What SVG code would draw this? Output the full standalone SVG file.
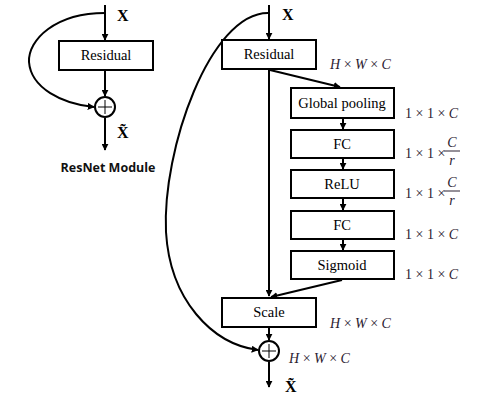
<svg xmlns="http://www.w3.org/2000/svg" width="500" height="403" viewBox="0 0 500 403">
<style>
.box{fill:#fff;stroke:#000;stroke-width:2}
.lbl{font-family:'Liberation Serif','Times New Roman',serif;font-size:14.5px;fill:#000;text-anchor:middle}
.dim{font-family:'Liberation Serif','Times New Roman',serif;font-size:14px;fill:#2a2030;font-style:italic}
.num{font-style:normal}
.ln{stroke:#000;stroke-width:2;fill:none}
.x{font-family:'Liberation Serif','Times New Roman',serif;font-weight:bold;font-size:16px;fill:#000}
</style>
<defs>
<marker id="ah2" viewBox="0 0 10 10" refX="9" refY="5" markerWidth="7" markerHeight="7" orient="auto" markerUnits="userSpaceOnUse">
<path d="M0,0 L10,5 L0,10 z" fill="#000"/>
</marker>
</defs>
<rect width="500" height="403" fill="#fff"/>
<g id="connectors">
<line class="ln" x1="105" y1="5" x2="105" y2="40" marker-end="url(#ah2)"/>
<line class="ln" x1="105" y1="70" x2="105" y2="96" marker-end="url(#ah2)"/>
<line class="ln" x1="105" y1="118" x2="105" y2="150" marker-end="url(#ah2)"/>
<path class="ln" d="M105,13 C55,13 28,40 29,62 C31,88 62,104 94,107" marker-end="url(#ah2)"/>
<line class="ln" x1="269" y1="5" x2="269" y2="39" marker-end="url(#ah2)"/>
<line class="ln" x1="269" y1="70" x2="269" y2="296" marker-end="url(#ah2)"/>
<line class="ln" x1="270" y1="70" x2="340" y2="87" marker-end="url(#ah2)"/>
<line class="ln" x1="343" y1="118" x2="343" y2="129" marker-end="url(#ah2)"/>
<line class="ln" x1="343" y1="159" x2="343" y2="169" marker-end="url(#ah2)"/>
<line class="ln" x1="343" y1="199" x2="343" y2="210" marker-end="url(#ah2)"/>
<line class="ln" x1="343" y1="240" x2="343" y2="250" marker-end="url(#ah2)"/>
<line class="ln" x1="342" y1="280" x2="271" y2="297" marker-end="url(#ah2)"/>
<line class="ln" x1="269" y1="327" x2="269" y2="340" marker-end="url(#ah2)"/>
<line class="ln" x1="269" y1="362" x2="269" y2="387" marker-end="url(#ah2)"/>
<path class="ln" d="M268,13 C210,13 162,150 166,232 C170,300 212,344 258,350" marker-end="url(#ah2)"/>
</g>
<g id="left-x"><text class="x" x="117" y="21">X</text></g>
<g id="left-residual"><rect class="box" x="59" y="41" width="94" height="29"/><text class="lbl" x="106" y="60">Residual</text></g>
<g id="left-sum"><circle cx="105" cy="107" r="10" fill="#fff" stroke="#000" stroke-width="2"/><path d="M98,107 H112 M105,100 V114" stroke="#000" stroke-width="1"/></g>
<g id="left-xt"><text class="x" x="117" y="138">X̃</text></g>
<g id="title"><text x="108" y="172" font-family="Open Sans, sans-serif" font-weight="bold" font-size="12.5px" text-anchor="middle" fill="#111">ResNet Module</text></g>

<g id="right-x"><text class="x" x="282" y="20">X</text></g>
<g id="residual"><rect class="box" x="222" y="40" width="94" height="29"/><text class="lbl" x="269" y="59">Residual</text></g>
<g id="gp"><rect class="box" x="291" y="88" width="103" height="30"/><text class="lbl" x="342" y="108">Global pooling</text></g>
<g id="fc1"><rect class="box" x="291" y="130" width="103" height="28"/><text class="lbl" x="342" y="149">FC</text></g>
<g id="relu"><rect class="box" x="291" y="170" width="103" height="28"/><text class="lbl" x="342" y="189">ReLU</text></g>
<g id="fc2"><rect class="box" x="291" y="211" width="103" height="28"/><text class="lbl" x="342" y="230">FC</text></g>
<g id="sigmoid"><rect class="box" x="291" y="251" width="103" height="28"/><text class="lbl" x="342" y="270">Sigmoid</text></g>
<g id="scale"><rect class="box" x="222" y="298" width="94" height="29"/><text class="lbl" x="269" y="317">Scale</text></g>
<g id="sum"><circle cx="269" cy="351" r="10" fill="#fff" stroke="#000" stroke-width="2"/><path d="M262,351 H276 M269,344 V358" stroke="#000" stroke-width="1"/></g>
<g id="right-xt"><text class="x" x="285" y="392">X̃</text></g>

<g id="dims">
<text class="dim" x="330" y="69">H <tspan class="num">×</tspan> W <tspan class="num">×</tspan> C</text>
<text class="dim" x="405" y="118"><tspan class="num">1 × 1 ×</tspan> C</text>
<text class="dim" x="405" y="158"><tspan class="num">1 × 1 ×</tspan></text>
<text class="dim" x="452" y="147" text-anchor="middle">C</text>
<line x1="444" y1="151" x2="460" y2="151" stroke="#2a2030" stroke-width="1"/>
<text class="dim" x="452" y="165" text-anchor="middle">r</text>
<text class="dim" x="405" y="198"><tspan class="num">1 × 1 ×</tspan></text>
<text class="dim" x="452" y="187" text-anchor="middle">C</text>
<line x1="444" y1="191" x2="460" y2="191" stroke="#2a2030" stroke-width="1"/>
<text class="dim" x="452" y="205" text-anchor="middle">r</text>
<text class="dim" x="405" y="239"><tspan class="num">1 × 1 ×</tspan> C</text>
<text class="dim" x="405" y="279"><tspan class="num">1 × 1 ×</tspan> C</text>
<text class="dim" x="330" y="328">H <tspan class="num">×</tspan> W <tspan class="num">×</tspan> C</text>
<text class="dim" x="289" y="363">H <tspan class="num">×</tspan> W <tspan class="num">×</tspan> C</text>
</g>
</svg>
